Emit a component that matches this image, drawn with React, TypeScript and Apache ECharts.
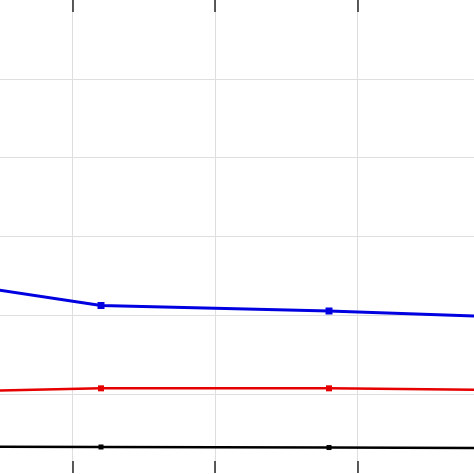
import React, { useEffect, useRef } from 'react';
import * as echarts from 'echarts';

// x positions of the plotted points (gridlines sit at 1, 2, 3)
const xValues = [-0.4, 1.2, 2.8, 4.4];
const blueValues = [2.562, 2.125, 2.055, 1.955];
const redValues = [1.012, 1.074, 1.074, 1.048];
const blackValues = [0.339, 0.33, 0.323, 0.313];

const xRange = [0, 4];
const yRange = [0, 6];

const toPairs = (ys: number[]) => xValues.map((x, i) => [x, ys[i]]);

const App: React.FC = () => {
  const chartRef = useRef<HTMLDivElement>(null);

  useEffect(() => {
    if (!chartRef.current) return;
    const chart = echarts.init(chartRef.current, undefined, { renderer: 'svg' });

    const tickStyle = {
      show: true,
      inside: true,
      length: 12,
      lineStyle: { color: '#262626', width: 1.5 },
    };

    const lineSeries = (name: string, color: string, values: number[], width: number, size: number) => ({
      name,
      type: 'line',
      data: toPairs(values),
      symbol: 'rect',
      symbolSize: size,
      showSymbol: true,
      lineStyle: { color, width },
      itemStyle: { color },
    });

    chart.setOption({
      animation: false,
      backgroundColor: '#ffffff',
      grid: { left: 0, right: 0, top: 0, bottom: 1, containLabel: false },
      xAxis: [
        {
          type: 'value',
          position: 'bottom',
          min: xRange[0],
          max: xRange[1],
          interval: 1,
          axisLine: { show: false },
          axisLabel: { show: false },
          axisTick: tickStyle,
          splitLine: { show: true, lineStyle: { color: '#dedede', width: 1 } },
        },
        {
          type: 'value',
          position: 'top',
          min: xRange[0],
          max: xRange[1],
          interval: 1,
          axisLine: { show: false },
          axisLabel: { show: false },
          axisTick: tickStyle,
          splitLine: { show: false },
        },
      ],
      yAxis: {
        type: 'value',
        min: yRange[0],
        max: yRange[1],
        interval: 1,
        axisLine: { show: false },
        axisLabel: { show: false },
        axisTick: { show: false },
        splitLine: {
          show: true,
          showMinLine: false,
          showMaxLine: false,
          lineStyle: { color: '#dedede', width: 1 },
        },
      },
      series: [
        lineSeries('black', '#000000', blackValues, 2.5, 5),
        lineSeries('red', '#e60000', redValues, 2.5, 6),
        lineSeries('blue', '#0000e0', blueValues, 3, 7),
      ],
    });

    return () => {
      chart.dispose();
    };
  }, []);

  // the plot box is wider than the visible window, as in the cropped reference
  return (
    <div
      style={{
        position: 'fixed',
        top: 0,
        left: 0,
        width: '474px',
        height: '474px',
        overflow: 'hidden',
        background: '#ffffff',
      }}
    >
      <div
        ref={chartRef}
        style={{ position: 'absolute', top: 0, left: '-70px', width: '570px', height: '474px' }}
      />
    </div>
  );
};

export default App;
